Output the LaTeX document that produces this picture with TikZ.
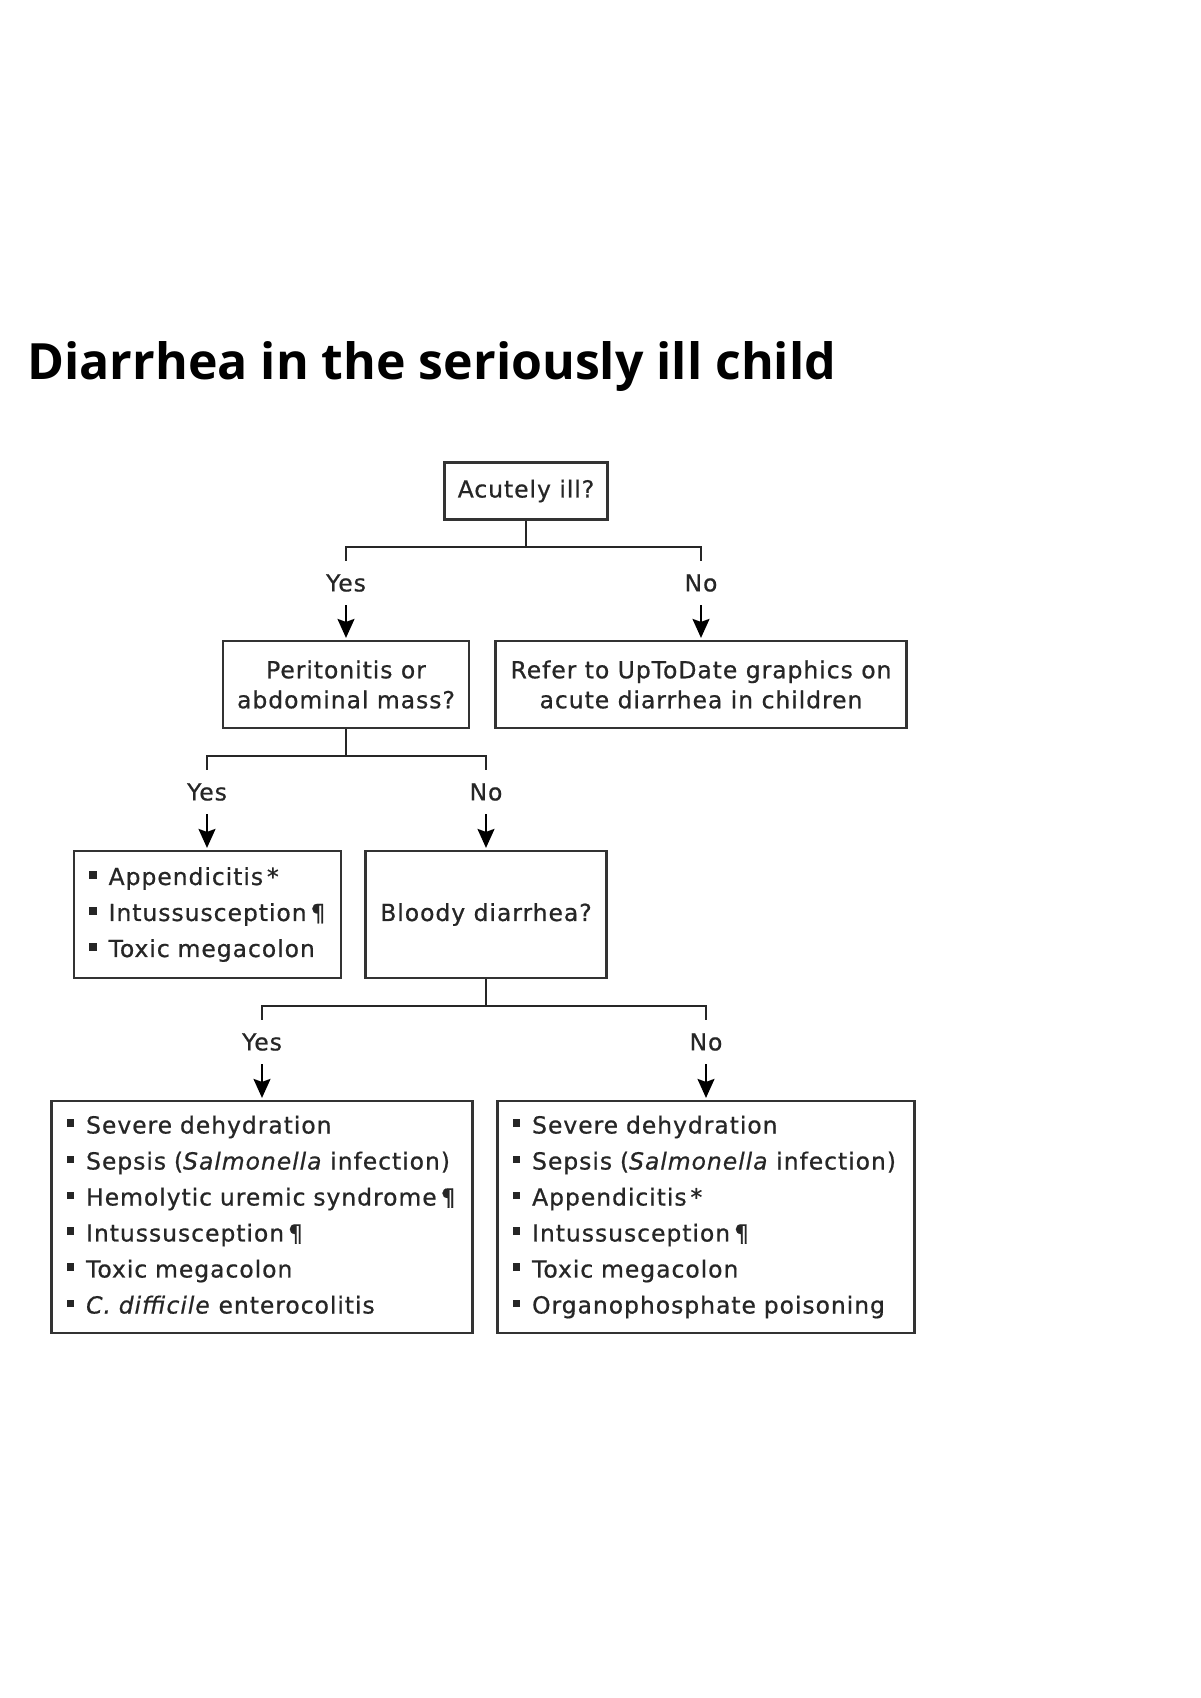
\documentclass[tikz,border=0pt]{standalone}
\usepackage{fontspec}
\setmainfont[LetterSpace=4, FakeBold=0.7]{DejaVu Sans}
\newfontfamily\titlefont{Open Sans}
\usetikzlibrary{arrows.meta, positioning}

\newcommand{\bul}{\rule[3.2pt]{3.8pt}{3.8pt}\hspace{6pt}}

\begin{document}
\begin{tikzpicture}[
  x=0.5pt, y=-0.5pt,
  every node/.style={font=\fontsize{11.75}{15}\selectfont, text=black!85},
  box/.style={draw=black!80, line width=1.1pt, rectangle, align=center,
              inner sep=0pt},
  listbox/.style={box, align=left, inner xsep=7.5pt,
                  font=\fontsize{11.75}{18}\selectfont},
  lbl/.style={inner sep=6.5pt},
  arrow/.style={-{Stealth[length=9.5pt, width=8.5pt, inset=1.5pt]}, line width=1pt,
                shorten >=1pt},
  branch/.style={line width=1pt, draw=black!85},
]
\useasboundingbox (0,0) rectangle (1200,1698);

\node[anchor=base west, inner sep=0pt, text=black,
      font={\titlefont\bfseries\fontsize{25}{30}\selectfont}]
  (title) at (27,379) {Diarrhea in the seriously ill child};

% first question
\node[box, minimum width=81.5pt, minimum height=28.5pt] (acute) at (526,491) {Acutely ill?};
\node[lbl] (yes1) at (346,583) {Yes};
\node[lbl] (no1)  at (701,583) {No};
\node[box, minimum width=123pt, minimum height=43.5pt] (peri) at (346,684.5)
  {Peritonitis or\\abdominal mass?};
\node[box, minimum width=205.5pt, minimum height=43.5pt] (refer) at (701,684.5)
  {Refer to UpToDate graphics on\\acute diarrhea in children};

% second question
\node[lbl] (yes2) at (207,792) {Yes};
\node[lbl] (no2)  at (486,792) {No};
\node[listbox, text width=118.5pt, minimum height=63.5pt] (appx) at (207.5,914.5)
  {\bul Appendicitis\,*\\ \bul Intussusception\,¶\\ \bul Toxic megacolon};
\node[box, minimum width=120.5pt, minimum height=63.5pt] (bloody) at (486,914.5)
  {Bloody diarrhea?};

% third question
\node[lbl] (yes3) at (262,1042) {Yes};
\node[lbl] (no3)  at (706,1042) {No};
\node[listbox, text width=195.5pt, minimum height=116pt] (bleft) at (262,1217)
  {\bul Severe dehydration\\
   \bul Sepsis (\textit{Salmonella} infection)\\
   \bul Hemolytic uremic syndrome\,¶\\
   \bul Intussusception\,¶\\
   \bul Toxic megacolon\\
   \bul \textit{C. difficile} enterocolitis\vphantom{g}};
\node[listbox, text width=193.5pt, minimum height=116pt] (bright) at (706,1217)
  {\bul Severe dehydration\\
   \bul Sepsis (\textit{Salmonella} infection)\\
   \bul Appendicitis\,*\\
   \bul Intussusception\,¶\\
   \bul Toxic megacolon\\
   \bul Organophosphate poisoning};

% branches
\draw[branch] (acute.south) -- ++(0,26) coordinate (s1);
\draw[branch] (yes1.north) |- (s1) -| (no1.north);
\draw[arrow] (yes1.south) -- (yes1.south |- peri.north);
\draw[arrow] (no1.south) -- (no1.south |- refer.north);

\draw[branch] (peri.south) -- ++(0,27) coordinate (s2);
\draw[branch] (yes2.north) |- (s2) -| (no2.north);
\draw[arrow] (yes2.south) -- (yes2.south |- appx.north);
\draw[arrow] (no2.south) -- (no2.south |- bloody.north);

\draw[branch] (bloody.south) -- ++(0,27) coordinate (s3);
\draw[branch] (yes3.north) |- (s3) -| (no3.north);
\draw[arrow] (yes3.south) -- (yes3.south |- bleft.north);
\draw[arrow] (no3.south) -- (no3.south |- bright.north);
\end{tikzpicture}
\end{document}
